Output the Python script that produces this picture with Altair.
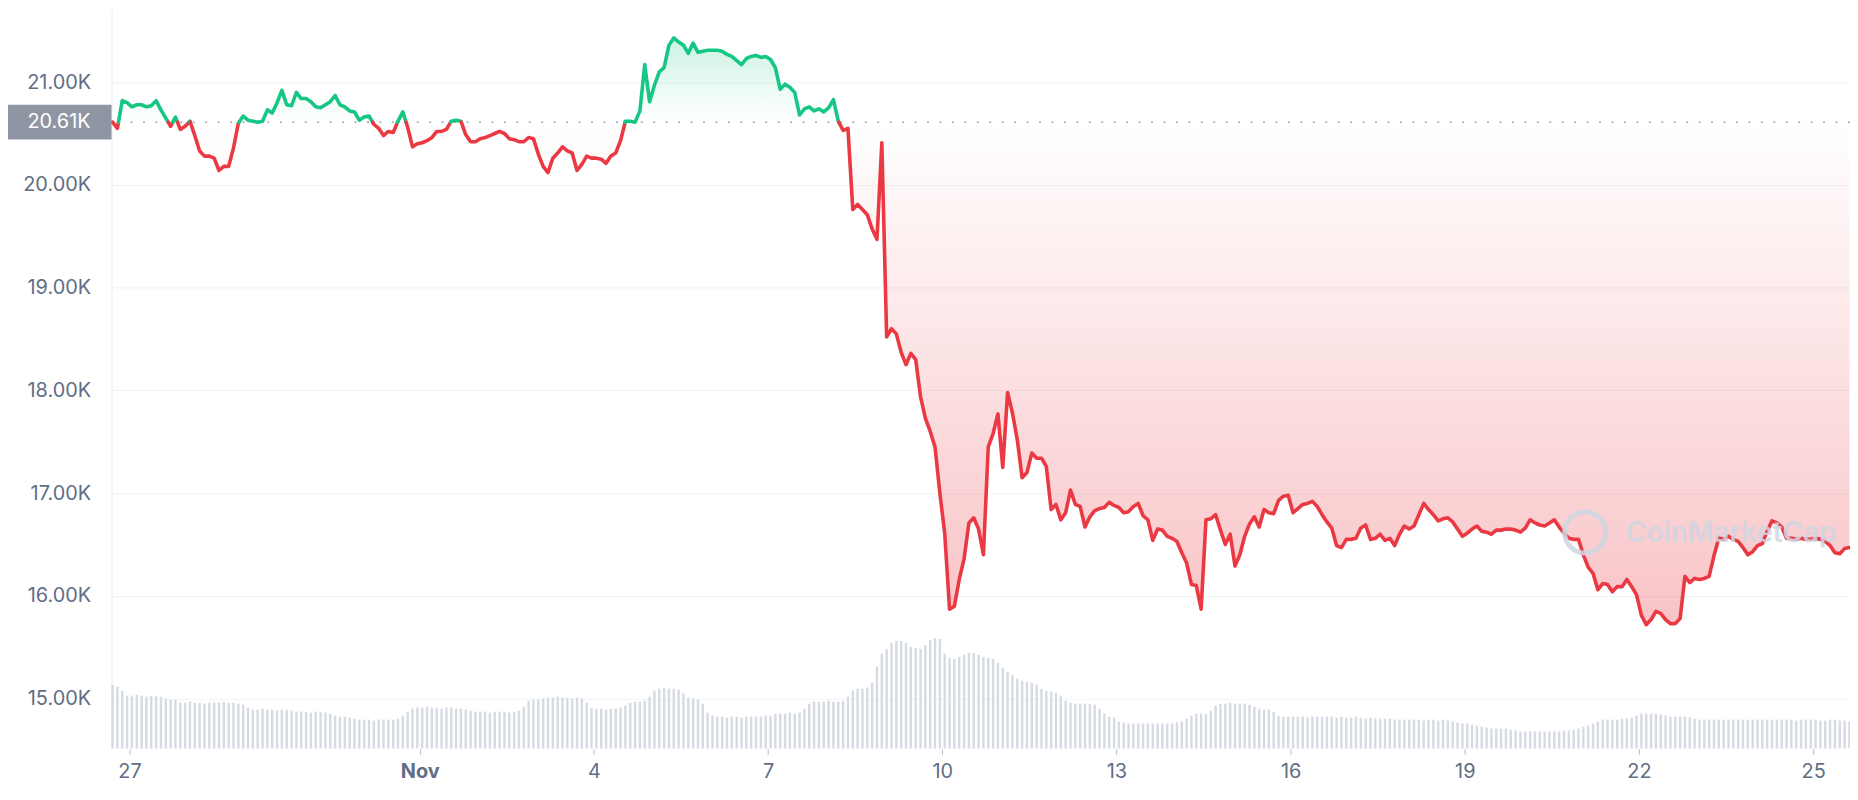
import altair as alt
import pandas as pd

# ---------------- data ----------------
START = "2022-10-26 17:00"   # first sample
STEP = "2h"                  # sampling step of the lists below

BASE_PRICE = 20.61           # reference (opening) price, thousands USD

# BTC price, thousands USD, every 2 hours
price_k = [
    20.61, 20.55, 20.82, 20.80, 20.76, 20.78, 20.78, 20.76, 20.77, 20.82,
    20.73, 20.65, 20.57, 20.66, 20.54, 20.57, 20.62, 20.48, 20.33, 20.28,
    20.28, 20.26, 20.14, 20.18, 20.18, 20.36, 20.60, 20.67, 20.63, 20.62,
    20.61, 20.62, 20.73, 20.70, 20.80, 20.92, 20.78, 20.77, 20.90, 20.84,
    20.84, 20.81, 20.76, 20.75, 20.78, 20.81, 20.87, 20.78, 20.76, 20.72,
    20.71, 20.63, 20.66, 20.67, 20.59, 20.55, 20.48, 20.52, 20.51, 20.62,
    20.71, 20.56, 20.37, 20.40, 20.41, 20.43, 20.46, 20.52, 20.52, 20.54,
    20.62, 20.63, 20.62, 20.49, 20.42, 20.42, 20.45, 20.46, 20.48, 20.50,
    20.52, 20.50, 20.45, 20.44, 20.42, 20.42, 20.46, 20.45, 20.30, 20.18,
    20.12, 20.26, 20.31, 20.37, 20.33, 20.31, 20.14, 20.20, 20.28, 20.26,
    20.26, 20.25, 20.21, 20.28, 20.31, 20.43, 20.62, 20.62, 20.61, 20.72,
    21.17, 20.81, 20.97, 21.10, 21.14, 21.36, 21.43, 21.39, 21.36, 21.28,
    21.38, 21.29, 21.30, 21.31, 21.31, 21.31, 21.30, 21.27, 21.25, 21.21,
    21.17, 21.23, 21.25, 21.26, 21.24, 21.25, 21.22, 21.14, 20.93, 20.98,
    20.95, 20.90, 20.68, 20.74, 20.76, 20.72, 20.74, 20.71, 20.75, 20.83,
    20.62, 20.53, 20.55, 19.76, 19.81, 19.76, 19.71, 19.57, 19.47, 20.41,
    18.52, 18.60, 18.55, 18.37, 18.25, 18.36, 18.30, 17.94, 17.73, 17.60,
    17.45, 17.00, 16.61, 15.87, 15.90, 16.16, 16.36, 16.71, 16.76, 16.65,
    16.40, 17.45, 17.58, 17.77, 17.25, 17.98, 17.78, 17.52, 17.15, 17.20,
    17.39, 17.34, 17.34, 17.26, 16.84, 16.89, 16.74, 16.81, 17.03, 16.89,
    16.87, 16.67, 16.77, 16.83, 16.85, 16.86, 16.91, 16.88, 16.86, 16.81,
    16.82, 16.87, 16.90, 16.78, 16.74, 16.54, 16.65, 16.64, 16.58, 16.56,
    16.53, 16.42, 16.32, 16.11, 16.10, 15.87, 16.74, 16.75, 16.79, 16.64,
    16.50, 16.60, 16.29, 16.40, 16.58, 16.70, 16.77, 16.67, 16.84, 16.81,
    16.80, 16.93, 16.97, 16.98, 16.81, 16.85, 16.89, 16.90, 16.92, 16.87,
    16.79, 16.72, 16.66, 16.49, 16.47, 16.55, 16.55, 16.56, 16.66, 16.69,
    16.55, 16.56, 16.60, 16.54, 16.56, 16.49, 16.60, 16.68, 16.65, 16.68,
    16.79, 16.90, 16.84, 16.79, 16.73, 16.75, 16.76, 16.72, 16.65, 16.58,
    16.61, 16.65, 16.68, 16.63, 16.62, 16.60, 16.64, 16.64, 16.65, 16.65,
    16.64, 16.62, 16.66, 16.74, 16.71, 16.69, 16.68, 16.71, 16.74, 16.67,
    16.61, 16.56, 16.55, 16.55, 16.40, 16.28, 16.22, 16.06, 16.12, 16.11,
    16.04, 16.09, 16.09, 16.16, 16.09, 16.01, 15.81, 15.72, 15.77, 15.85,
    15.83, 15.77, 15.73, 15.73, 15.78, 16.19, 16.13, 16.17, 16.16, 16.17,
    16.19, 16.39, 16.56, 16.55, 16.58, 16.55, 16.53, 16.47, 16.40, 16.43,
    16.49, 16.51, 16.63, 16.73, 16.71, 16.67, 16.56, 16.56, 16.55, 16.56,
    16.55, 16.55, 16.56, 16.55, 16.53, 16.49, 16.42, 16.41, 16.46, 16.47,
]

# 24h trading volume, billions USD, every 2 hours
volume_b = [
    64, 62, 58,
    53, 53, 54, 53, 52, 53, 53, 52,
    50, 49, 49,
    46, 46, 47, 46, 46, 45, 46, 46, 46, 47, 46, 46, 45, 44,
    41, 39, 39, 40, 39, 39, 38, 39, 39, 38,
    37, 37, 37, 36, 37, 37, 36, 35,
    33, 32, 32, 31,
    30, 29, 29, 29, 28, 29, 29, 29, 29, 30, 33,
    37, 40, 41, 41, 42, 41, 41, 40, 41, 41, 40, 40, 39, 38,
    37, 37, 37, 36, 37, 37, 37, 36, 37, 38, 42,
    48, 49, 49,
    50, 51, 51, 52, 51, 51, 50, 51, 50, 46,
    41, 40, 40, 39, 40, 40, 41, 43,
    46, 47, 47, 48, 52,
    58, 60, 61, 60, 60, 59, 55,
    51, 50, 49, 45,
    36, 33, 32, 32, 31, 32, 32, 31, 32, 32, 32, 32, 33, 33,
    35, 35, 35, 36, 35, 36, 40,
    45, 47, 47, 47, 48, 47, 47, 48, 52,
    58, 60, 60, 61, 66,
    82, 95, 100,
    106, 108, 108, 106,
    102, 101, 100, 104,
    109, 111, 110,
    95, 91, 90, 92,
    94, 96, 96, 94,
    92, 91, 90, 86,
    81, 77, 74,
    70, 68, 67, 66, 64,
    60, 58, 57, 56, 53,
    48, 46, 45, 45, 45, 45, 44, 40,
    35, 32, 31,
    27, 26, 25, 25, 25, 25, 25, 25, 25, 25, 25, 25, 26, 27, 30,
    33, 35, 35, 35, 38,
    43, 45, 45, 46, 45, 45, 45, 44, 42,
    40, 39, 39, 37,
    33, 32, 32, 32, 32, 32, 31, 32, 32, 32, 32, 32, 31, 32, 31, 31, 32, 31, 30, 31, 30, 30, 30,
    30, 29, 29, 29, 29, 29, 29, 28, 29, 29, 28, 29, 28, 27,
    26, 25, 25, 24, 23, 22,
    21, 20, 20, 20, 20, 19,
    18, 17, 17, 17, 17, 17, 17, 17, 17, 17, 18, 18, 19,
    20, 22, 23, 25,
    27, 29, 29, 29, 29, 30, 30, 31,
    33, 35, 35, 35, 35, 34, 33,
    32, 32, 32, 32, 31,
    30, 29, 29, 29, 29, 29, 29, 29, 29, 29, 29, 29, 29, 29, 29, 29, 29, 29, 29, 29,
    29, 28, 29, 29, 29, 29, 28, 28, 29, 29, 28, 28, 27,
]

y_ticks = [15, 16, 17, 18, 19, 20, 21]
x_tick_dates = [(10, 27), (11, 1), (11, 4), (11, 7), (11, 10), (11, 13),
                (11, 16), (11, 19), (11, 22), (11, 25)]

assert len(price_k) == len(volume_b) == 360, (len(price_k), len(volume_b))

# ---------------- tables ----------------
times = pd.date_range(START, periods=len(price_k), freq=STEP)


def side_of(p):
    return "up" if p >= BASE_PRICE else "down"


rows = []
seg = 0
cur = side_of(price_k[0])
rows.append(dict(t=times[0], p=price_k[0], seg=seg, side=cur))
for i in range(1, len(price_k)):
    p0, p1 = price_k[i - 1], price_k[i]
    s1 = side_of(p1)
    if s1 != cur:
        frac = (BASE_PRICE - p0) / (p1 - p0) if p1 != p0 else 0.0
        tc = (times[i - 1] + (times[i] - times[i - 1]) * frac).round("s")
        rows.append(dict(t=tc, p=BASE_PRICE, seg=seg, side=cur))
        seg += 1
        cur = s1
        rows.append(dict(t=tc, p=BASE_PRICE, seg=seg, side=cur))
    rows.append(dict(t=times[i], p=p1, seg=seg, side=cur))
line_df = pd.DataFrame(rows)

area_df = line_df.drop_duplicates("t")[["t", "p"]].copy()
area_df["base"] = BASE_PRICE
area_df["up"] = area_df["p"].clip(lower=BASE_PRICE)
area_df["dn"] = area_df["p"].clip(upper=BASE_PRICE)

vol_df = pd.DataFrame({"t": times, "vol": volume_b})
base_df = pd.DataFrame({"base": [BASE_PRICE], "label": [f"{BASE_PRICE:.2f}K"]})
wm_df = pd.DataFrame({"w": ["CoinMarketCap"]})

# ---------------- scales & axes ----------------
FONT = "Inter, Roboto, sans-serif"
TXT = "#616e85"

x_scale = alt.Scale(domain=[alt.DateTime(year=2022, month=10, date=26, hours=16, minutes=35),
                            alt.DateTime(year=2022, month=11, date=25, hours=15, minutes=14)],
                    padding=0)
x_axis = alt.Axis(
    values=[alt.DateTime(year=2022, month=m, date=d) for m, d in x_tick_dates],
    labelExpr="date(datum.value) == 1 ? timeFormat(datum.value, '%b') : timeFormat(datum.value, '%-d')",
    labelFontWeight={"condition": {"test": "date(datum.value) == 1", "value": "bold"}, "value": "normal"},
    title=None, grid=False, domain=False, ticks=True, tickSize=6, tickColor="#b9bec8",
    tickWidth=1, labelPadding=7, labelFont=FONT, labelFontSize=20, labelColor=TXT,
    labelFlush=False, labelOverlap=False,
)
y_scale = alt.Scale(domain=[14.515, 21.705], nice=False, zero=False)
y_axis = alt.Axis(
    orient="left", values=y_ticks, labelExpr="format(datum.value, '.2f') + 'K'",
    title=None, grid=True, gridColor="#eff2f5", gridWidth=1, domain=True,
    domainColor="#eceef2", domainWidth=1, ticks=False, labelPadding=21,
    labelFont=FONT, labelFontSize=20, labelColor=TXT,
)
X = alt.X("t:T", scale=x_scale, axis=x_axis, title=None)

# ---------------- layers ----------------
vol = alt.Chart(vol_df).mark_bar(width=2.4, color="#d5dae3").encode(
    x=X,
    y=alt.Y("vol:Q", scale=alt.Scale(domain=[0, 742], nice=False), axis=None),
)

green_grad = alt.Gradient(
    gradient="linear", x1=0, x2=0, y1=0, y2=1,
    stops=[alt.GradientStop(color="rgba(22,199,132,0.22)", offset=0),
           alt.GradientStop(color="rgba(22,199,132,0)", offset=1)],
)
red_grad = alt.Gradient(
    gradient="linear", x1=0, x2=0, y1=0, y2=1,
    stops=[alt.GradientStop(color="rgba(234,57,67,0)", offset=0),
           alt.GradientStop(color="rgba(234,57,67,0.30)", offset=1)],
)

area_up = alt.Chart(area_df).mark_area(color=green_grad).encode(
    x=X, y=alt.Y("up:Q", scale=y_scale, axis=y_axis), y2="base:Q")
area_dn = alt.Chart(area_df).mark_area(color=red_grad).encode(
    x=X, y=alt.Y("dn:Q", scale=y_scale, axis=y_axis), y2="base:Q")

base_rule = alt.Chart(base_df).mark_rule(color="#9ea4af", strokeDash=[2, 10.5], strokeWidth=1.6).encode(
    y=alt.Y("base:Q", scale=y_scale, axis=y_axis))

line = alt.Chart(line_df).mark_line(strokeWidth=3.6, strokeJoin="round", strokeCap="round").encode(
    x=X,
    y=alt.Y("p:Q", scale=y_scale, axis=y_axis),
    color=alt.Color("side:N", scale=alt.Scale(domain=["up", "down"], range=["#16c784", "#ea3943"]),
                    legend=None),
    detail="seg:N",
)

box = alt.Chart(base_df).mark_tick(orient="horizontal", thickness=35, size=104,
                                   color="#8f95a2", opacity=1).encode(
    x=alt.value(-52), y=alt.Y("base:Q", scale=y_scale, axis=y_axis))
box_text = alt.Chart(base_df).mark_text(align="right", baseline="middle", color="#ffffff",
                                        font=FONT, fontSize=20).encode(
    x=alt.value(-21), y=alt.Y("base:Q", scale=y_scale, axis=y_axis), text="label:N")

wm_logo = alt.Chart(wm_df).mark_point(shape="circle", size=1700, filled=False, strokeWidth=5,
                                      color="#cfd6e2", opacity=0.85).encode(
    x=alt.value(1480), y=alt.value(525))
wm_text = alt.Chart(wm_df).mark_text(align="left", baseline="middle", font=FONT, fontSize=28,
                                     fontWeight=600, color="#cfd6e2", opacity=0.85).encode(
    x=alt.value(1521), y=alt.value(527), text="w:N")

price_layer = alt.layer(area_up, area_dn, base_rule, line, box, box_text, wm_logo, wm_text)

chart = alt.layer(vol, price_layer).resolve_scale(y="independent").properties(
    width=1746, height=742,
    padding={"left": 104, "top": 0, "right": 0, "bottom": 37},
    autosize=alt.AutoSizeParams(type="none"),
    background="#ffffff",
).configure_view(stroke=None)

chart.save("out.html", embed_options={"renderer": "svg", "actions": False})
